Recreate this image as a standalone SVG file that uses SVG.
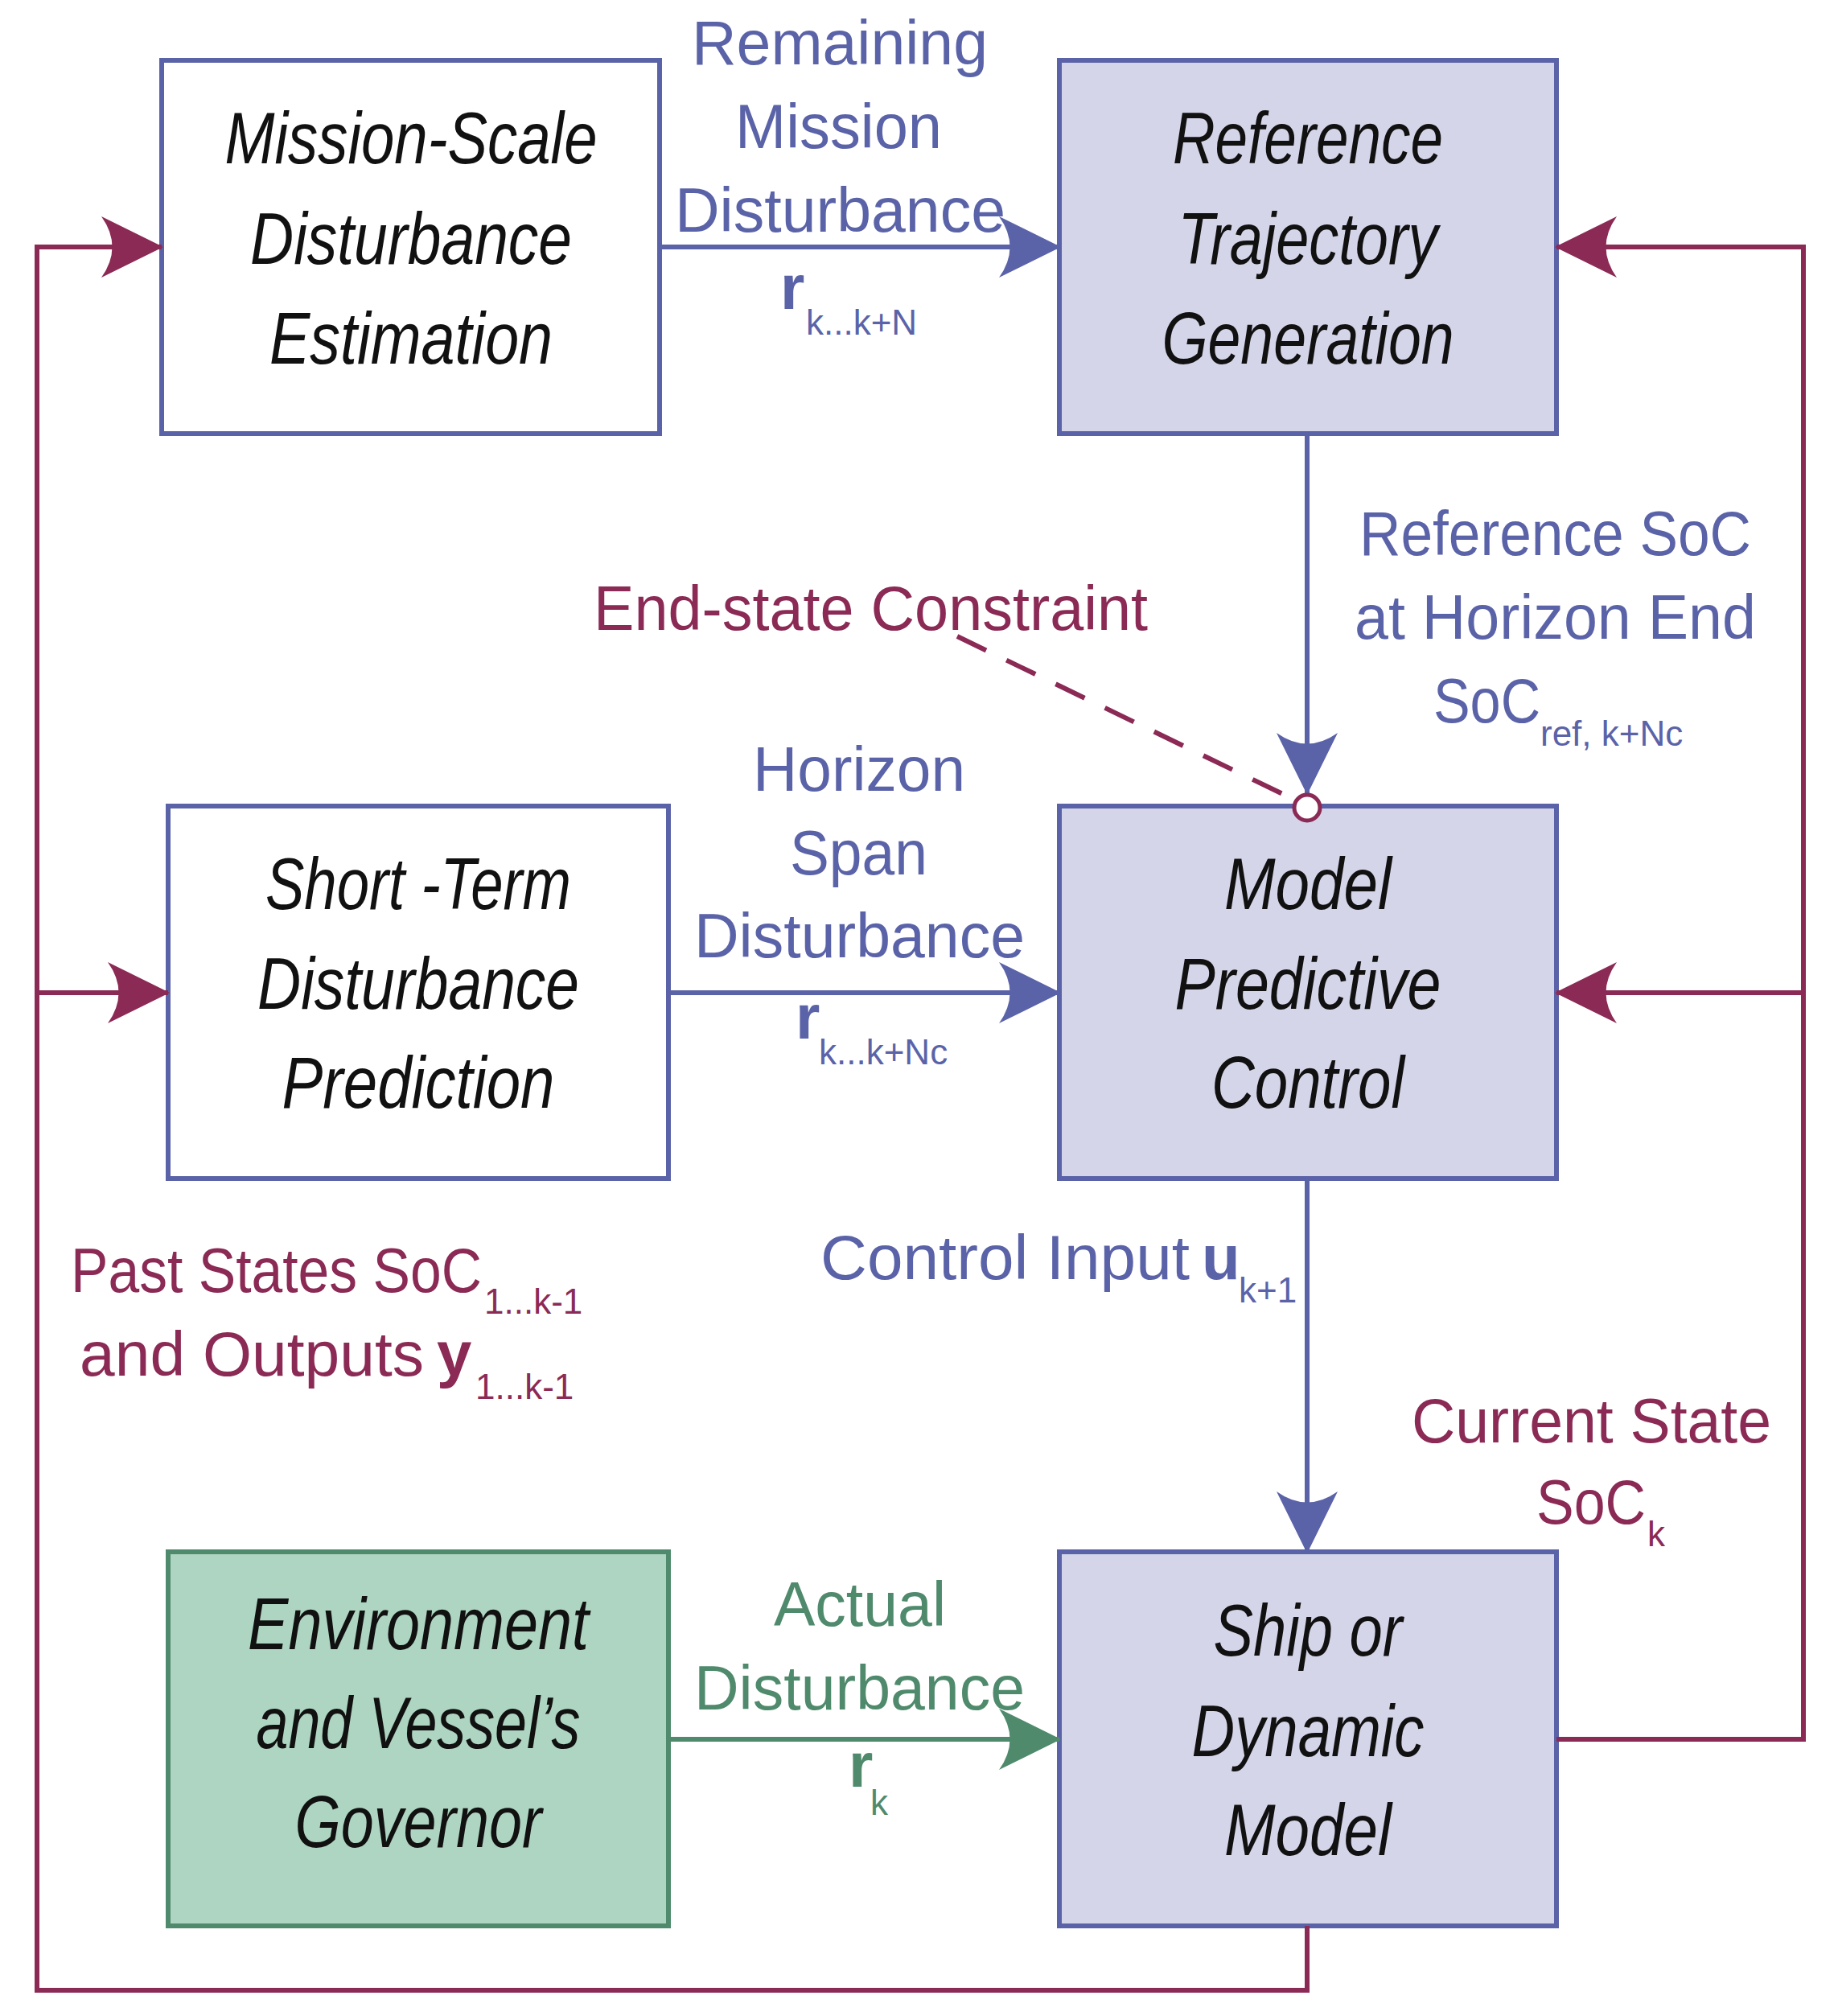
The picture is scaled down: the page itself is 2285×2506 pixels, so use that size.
<svg xmlns="http://www.w3.org/2000/svg" width="2285" height="2506" viewBox="0 0 2285 2506">
<style>
.box{stroke:#5b63a8;stroke-width:6}
.w{fill:#fff}.p{fill:#d4d5e8}.g{fill:#aed5c1;stroke:#4f8a6c}
.bt{font-family:"Liberation Sans",sans-serif;font-style:italic;font-size:90px;fill:#111;text-anchor:middle}
.lb{font-family:"Liberation Sans",sans-serif;font-size:78px}
.sub{font-family:"Liberation Sans",sans-serif;font-size:44px}
.blue{fill:#5b63a8}.red{fill:#8b2a55}.grn{fill:#4f8a6c}
.lb2{stroke:#5b63a8;stroke-width:6;fill:none}
.lr{stroke:#8b2a55;stroke-width:6;fill:none}
.lg{stroke:#4f8a6c;stroke-width:6;fill:none}
</style>
<defs>
<marker id="ab" markerUnits="userSpaceOnUse" viewBox="-80 -42 84 84" refX="0" refY="0" markerWidth="84" markerHeight="84" orient="auto"><path d="M2 0 L-75 -38 Q-48 0 -75 38 Z" fill="#5b63a8"/></marker>
<marker id="ar" markerUnits="userSpaceOnUse" viewBox="-80 -42 84 84" refX="0" refY="0" markerWidth="84" markerHeight="84" orient="auto"><path d="M2 0 L-75 -38 Q-48 0 -75 38 Z" fill="#8b2a55"/></marker>
<marker id="ag" markerUnits="userSpaceOnUse" viewBox="-80 -42 84 84" refX="0" refY="0" markerWidth="84" markerHeight="84" orient="auto"><path d="M2 0 L-75 -38 Q-48 0 -75 38 Z" fill="#4f8a6c"/></marker>
</defs>
<rect width="2285" height="2506" fill="#fff"/>
<g id="n1"><rect class="box w" x="201" y="75" width="619" height="464"/>
<text class="bt" x="511" y="203" textLength="463" lengthAdjust="spacingAndGlyphs">Mission-Scale</text>
<text class="bt" x="511" y="328" textLength="400" lengthAdjust="spacingAndGlyphs">Disturbance</text>
<text class="bt" x="511" y="452" textLength="352" lengthAdjust="spacingAndGlyphs">Estimation</text></g>
<g id="n2"><rect class="box p" x="1317" y="75" width="618" height="464"/>
<text class="bt" x="1626" y="203" textLength="336" lengthAdjust="spacingAndGlyphs">Reference</text>
<text class="bt" x="1626" y="328" textLength="323" lengthAdjust="spacingAndGlyphs">Trajectory</text>
<text class="bt" x="1626" y="452" textLength="363" lengthAdjust="spacingAndGlyphs">Generation</text></g>
<g id="n3"><rect class="box w" x="209" y="1002" width="622" height="463"/>
<text class="bt" x="520" y="1130" textLength="380" lengthAdjust="spacingAndGlyphs">Short -Term</text>
<text class="bt" x="520" y="1254" textLength="400" lengthAdjust="spacingAndGlyphs">Disturbance</text>
<text class="bt" x="520" y="1377" textLength="339" lengthAdjust="spacingAndGlyphs">Prediction</text></g>
<g id="n4"><rect class="box p" x="1317" y="1002" width="618" height="463"/>
<text class="bt" x="1626" y="1130" textLength="208" lengthAdjust="spacingAndGlyphs">Model</text>
<text class="bt" x="1626" y="1254" textLength="331" lengthAdjust="spacingAndGlyphs">Predictive</text>
<text class="bt" x="1626" y="1377" textLength="240" lengthAdjust="spacingAndGlyphs">Control</text></g>
<g id="n5"><rect class="box g" x="209" y="1929" width="622" height="465"/>
<text class="bt" x="520" y="2050" textLength="424" lengthAdjust="spacingAndGlyphs">Environment</text>
<text class="bt" x="520" y="2173" textLength="403" lengthAdjust="spacingAndGlyphs">and Vessel’s</text>
<text class="bt" x="520" y="2296" textLength="307" lengthAdjust="spacingAndGlyphs">Governor</text></g>
<g id="n6"><rect class="box p" x="1317" y="1929" width="618" height="465"/>
<text class="bt" x="1626" y="2058" textLength="235" lengthAdjust="spacingAndGlyphs">Ship or</text>
<text class="bt" x="1626" y="2183" textLength="289" lengthAdjust="spacingAndGlyphs">Dynamic</text>
<text class="bt" x="1626" y="2306" textLength="208" lengthAdjust="spacingAndGlyphs">Model</text></g>
<g id="connectors">
<path class="lb2" d="M820 307 H1317" marker-end="url(#ab)"/>
<path class="lb2" d="M1625 539 V986" marker-end="url(#ab)"/>
<path class="lb2" d="M831 1234 H1317" marker-end="url(#ab)"/>
<path class="lb2" d="M1625 1465 V1929" marker-end="url(#ab)"/>
<path class="lg" d="M831 2162 H1317" marker-end="url(#ag)"/>
<path class="lr" d="M1935 2162 H2242 V307 H1935" marker-end="url(#ar)"/>
<path class="lr" d="M2242 1234 H1935" marker-end="url(#ar)"/>
<path class="lr" d="M1625 2394 V2474 H46 V307 H201" marker-end="url(#ar)"/>
<path class="lr" d="M46 1234 H209" marker-end="url(#ar)"/>
<path class="lr" d="M1190 791 L1603 991" stroke-dasharray="40 28"/>
<circle cx="1625" cy="1004" r="16" fill="#fff" stroke="#8b2a55" stroke-width="5"/>
</g>
<g id="labels">
<text class="lb blue" x="860" y="80" textLength="368" lengthAdjust="spacingAndGlyphs">Remaining</text>
<text class="lb blue" x="914" y="184" textLength="257" lengthAdjust="spacingAndGlyphs">Mission</text>
<text class="lb blue" x="839" y="288" textLength="411" lengthAdjust="spacingAndGlyphs">Disturbance</text>
<text class="lb blue" x="970" y="384" font-weight="bold">r</text>
<text class="sub blue" x="1002" y="416">k...k+N</text>
<text class="lb blue" x="1690" y="690" textLength="487" lengthAdjust="spacingAndGlyphs">Reference SoC</text>
<text class="lb blue" x="1684" y="794" textLength="499" lengthAdjust="spacingAndGlyphs">at Horizon End</text>
<text class="lb blue" x="1782" y="898" textLength="133" lengthAdjust="spacingAndGlyphs">SoC</text>
<text class="sub blue" x="1915" y="927">ref, k+Nc</text>
<text class="lb red" x="738" y="783" textLength="689" lengthAdjust="spacingAndGlyphs">End-state Constraint</text>
<text class="lb blue" x="936" y="983" textLength="264" lengthAdjust="spacingAndGlyphs">Horizon</text>
<text class="lb blue" x="982" y="1087" textLength="171" lengthAdjust="spacingAndGlyphs">Span</text>
<text class="lb blue" x="863" y="1190" textLength="411" lengthAdjust="spacingAndGlyphs">Disturbance</text>
<text class="lb blue" x="989" y="1291" font-weight="bold">r</text>
<text class="sub blue" x="1018" y="1323">k...k+Nc</text>
<text class="lb blue" x="1020" y="1590" textLength="459" lengthAdjust="spacingAndGlyphs">Control Input</text>
<text class="lb blue" x="1494" y="1590" font-weight="bold">u</text>
<text class="sub blue" x="1540" y="1619">k+1</text>
<text class="lb red" x="88" y="1606" textLength="511" lengthAdjust="spacingAndGlyphs">Past States SoC</text>
<text class="sub red" x="602" y="1633">1...k-1</text>
<text class="lb red" x="99" y="1710" textLength="428" lengthAdjust="spacingAndGlyphs">and Outputs</text>
<text class="lb red" x="543" y="1710" font-weight="bold">y</text>
<text class="sub red" x="591" y="1739">1...k-1</text>
<text class="lb red" x="1755" y="1793" textLength="447" lengthAdjust="spacingAndGlyphs">Current State</text>
<text class="lb red" x="1910" y="1894" textLength="136" lengthAdjust="spacingAndGlyphs">SoC</text>
<text class="sub red" x="2048" y="1922">k</text>
<text class="lb grn" x="962" y="2021" textLength="214" lengthAdjust="spacingAndGlyphs">Actual</text>
<text class="lb grn" x="863" y="2125" textLength="411" lengthAdjust="spacingAndGlyphs">Disturbance</text>
<text class="lb grn" x="1055" y="2221" font-weight="bold">r</text>
<text class="sub grn" x="1082" y="2256">k</text>
</g>
</svg>
